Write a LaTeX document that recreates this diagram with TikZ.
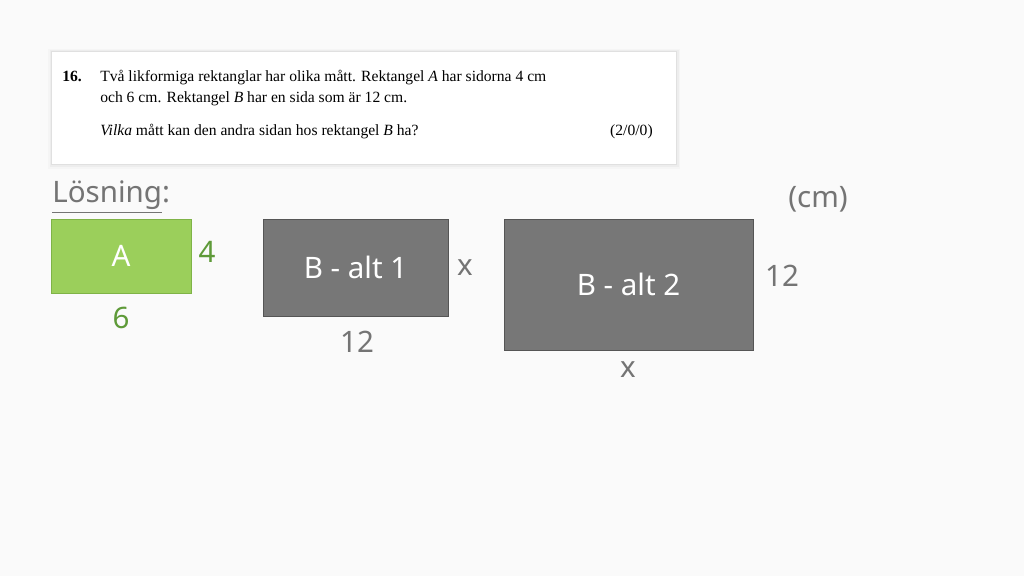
\documentclass[tikz,border=0pt]{standalone}
\usepackage{fontspec}
\setmainfont{Liberation Serif}
\newfontfamily\uifont{Noto Sans}
\definecolor{bgcol}{HTML}{FAFAFA}
\definecolor{agreen}{HTML}{9BCF5B}
\definecolor{agreenline}{HTML}{7FB347}
\definecolor{atext}{HTML}{5E9A38}
\definecolor{bgray}{HTML}{777777}
\definecolor{bgrayline}{HTML}{555555}
\definecolor{ltext}{HTML}{747474}
\tikzset{
  probtext/.style={anchor=base west,inner sep=0pt,font=\fontsize{11.1pt}{13pt}\selectfont},
  rectbox/.style={draw,line width=0.6pt,inner sep=0pt,text=white,font=\uifont\fontsize{21pt}{24pt}\selectfont},
  sidelabel/.style={inner sep=0pt,font=\uifont\fontsize{21pt}{24pt}\selectfont}
}
\begin{document}
\begin{tikzpicture}[x=0.025cm,y=-0.025cm]
            \useasboundingbox[fill=bgcol] (0,0) rectangle (1024,576);
            % uppgiften med mjuk skugga
            \fill[black,opacity=0.02] (48,49) rectangle (680,169);
            \fill[black,opacity=0.03] (49.5,50) rectangle (678.5,167);
            \fill[black,opacity=0.05] (51,51) rectangle (677,165.5);
            \node[fill=white,minimum width=15.6cm,minimum height=2.8cm,inner sep=0pt] (problem) at (364,108) {};
            \node[probtext,font=\bfseries\fontsize{11.1pt}{13pt}\selectfont] (num) at (62,82) {16.};
            \node[probtext] (line1) at (100,82) {Två likformiga rektanglar har olika mått. Rektangel \textit{A} har sidorna 4 cm};
            \node[probtext] (line2) at (100,103) {och 6 cm. Rektangel \textit{B} har en sida som är 12 cm.};
            \node[probtext] (line3) at (100,136) {\textit{Vilka} mått kan den andra sidan hos rektangel \textit{B} ha?};
            \node[probtext,anchor=base east] (points) at (653,136) {(2/0/0)};
            % lösning
            \node[sidelabel,text=ltext,anchor=west] (losning) at (52,197) {\underline{Lösning}:};
            \node[sidelabel,text=ltext] (unit) at (818,199) {(cm)};
            \node[rectbox,fill=agreen,draw=agreenline,minimum width=3.5cm,minimum height=1.85cm] (rectA) at (121,256) {A};
            \node[rectbox,fill=bgray,draw=bgrayline,minimum width=4.625cm,minimum height=2.425cm] (rectB1) at (355.5,267.5) {B - alt 1};
            \node[rectbox,fill=bgray,draw=bgrayline,minimum width=6.225cm,minimum height=3.275cm] (rectB2) at (628.5,284.5) {B - alt 2};
            \node[sidelabel,text=atext] (aheight) at (207,252) {4};
            \node[sidelabel,text=atext] (awidth) at (121,318) {6};
            \node[sidelabel,text=ltext] (b1height) at (465,268) {x};
            \node[sidelabel,text=ltext] (b1width) at (357,342) {12};
            \node[sidelabel,text=ltext] (b2height) at (782,276) {12};
            \node[sidelabel,text=ltext] (b2width) at (628,370) {x};
        \end{tikzpicture}
\end{document}
